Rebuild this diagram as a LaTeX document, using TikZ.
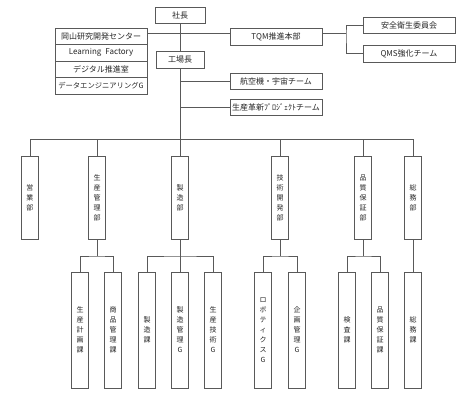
\documentclass[tikz,border=0pt]{standalone}
\usepackage{fontspec}
\newfontfamily\jp{Noto Sans CJK JP}
\usetikzlibrary{calc}

\begin{document}
\begin{tikzpicture}[x=1pt, y=-1pt,
  line width=0.8pt,
  linec/.style={draw=black!65},
  hbox/.style={linec, fill=white, inner sep=0pt, text=black!85,
    minimum width=92pt, minimum height=16.5pt, font=\jp\fontsize{8}{10}\selectfont},
  vbox/.style={linec, fill=white, inner sep=0pt, text=black!85, align=center,
    minimum width=17pt, font=\jp\fontsize{7}{10}\selectfont},
  dept/.style={vbox, minimum height=83pt},
  sect/.style={vbox, minimum height=116pt}]
  \useasboundingbox (0,0) rectangle (474,402);

  % Top management
  \node[hbox, minimum width=50pt, minimum height=16pt] (shacho) at (180,15) {社長};
  \node[hbox, minimum width=48pt, minimum height=17pt] (kojo) at (180,59.5) {工場長};

  % Staff units on the left
  \node[hbox] (okayama) at (101,36.25) {岡山研究開発センター};
  \node[hbox] (learning) at (101,52.75) {Learning\enspace Factory};
  \node[hbox] (digital) at (101,69.25) {デジタル推進室};
  \node[hbox, font=\jp\fontsize{7.3}{9}\selectfont] (dataeng) at (101,85.75) {データエンジニアリングG};

  % TQM and its committees
  \node[hbox, minimum height=17pt] (tqm) at (276,36.5) {TQM推進本部};
  \node[hbox, minimum height=16pt] (anzen) at (409,25) {安全衛生委員会};
  \node[hbox, minimum height=17pt] (qms) at (409,53.5) {QMS強化チーム};

  % Project teams
  \node[hbox, minimum height=16pt] (koku) at (276,81) {航空機・宇宙チーム};
  \node[hbox, minimum height=16pt] (kakushin) at (276,107.5) {生産革新ﾌﾟﾛｼﾞｪｸﾄチーム};

  % Departments
  \node[dept] (eigyo) at (30,197.5) {営\\業\\部};
  \node[dept] (skanri) at (97,197.5) {生\\産\\管\\理\\部};
  \node[dept] (seizo) at (180,197.5) {製\\造\\部};
  \node[dept] (gijutsu) at (280,197.5) {技\\術\\開\\発\\部};
  \node[dept] (hinsho) at (363,197.5) {品\\質\\保\\証\\部};
  \node[dept] (somu) at (413,197.5) {総\\務\\部};

  % Sections
  \node[sect] (keikaku) at (80,330) {生\\産\\計\\画\\課};
  \node[sect] (shohin) at (113,330) {商\\品\\管\\理\\課};
  \node[sect] (seizoka) at (147,330) {製\\造\\課};
  \node[sect] (seizog) at (180,330) {製\\造\\管\\理\\G};
  \node[sect] (seigig) at (213,330) {生\\産\\技\\術\\G};
  \node[sect] (robo) at (263,330) {ロ\\ボ\\テ\\ィ\\ク\\ス\\G};
  \node[sect] (kikaku) at (297,330) {企\\画\\管\\理\\G};
  \node[sect] (kensa) at (347,330) {検\\査\\課};
  \node[sect] (hinshoka) at (380,330) {品\\質\\保\\証\\課};
  \node[sect] (somuka) at (413,330) {総\\務\\課};

  % Branch points
  \coordinate (jbus) at (180,33.5);
  \coordinate (tqmfork) at (346,33.5);
  \coordinate (bus) at (180,139);
  \coordinate (sb1) at (97,256);
  \coordinate (sb2) at (180,256);
  \coordinate (sb3) at (280,256);
  \coordinate (sb4) at (363,256);

  % Upper connectors
  \draw[linec] (shacho) -- (kojo);
  \draw[linec] (okayama.east |- jbus) -- (tqm.west |- jbus);
  \draw[linec] (tqm.east |- tqmfork) -- (tqmfork);
  \draw[linec] (anzen.west) -| (tqmfork) |- (qms.west);
  \draw[linec] (kojo) -- (bus);
  \draw[linec] (kojo |- koku.west) -- (koku.west);
  \draw[linec] (kojo |- kakushin.west) -- (kakushin.west);

  % Department bus
  \draw[linec] (eigyo.north |- bus) -- (somu.north |- bus);
  \foreach \d in {eigyo,skanri,seizo,gijutsu,hinsho,somu}
    \draw[linec] (\d.north |- bus) -- (\d.north);

  % Section connectors
  \draw[linec] (skanri) -- (sb1);
  \draw[linec] (keikaku.north) |- (sb1) -| (shohin.north);
  \draw[linec] (seizo) -- (seizog);
  \draw[linec] (seizoka.north) |- (sb2) -| (seigig.north);
  \draw[linec] (gijutsu) -- (sb3);
  \draw[linec] (robo.north) |- (sb3) -| (kikaku.north);
  \draw[linec] (hinsho) -- (sb4);
  \draw[linec] (kensa.north) |- (sb4) -| (hinshoka.north);
  \draw[linec] (somu) -- (somuka);
\end{tikzpicture}
\end{document}
